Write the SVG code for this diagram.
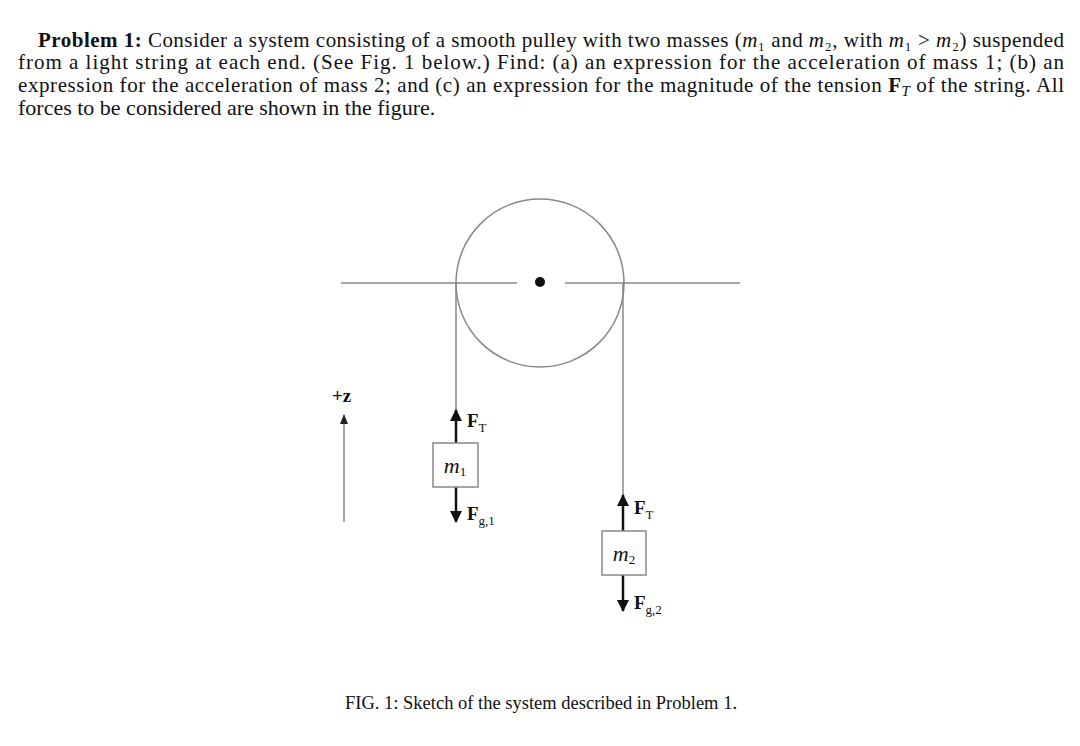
<svg xmlns="http://www.w3.org/2000/svg" width="1080" height="746" viewBox="0 0 1080 746">
<style>
.t{font-family:"Liberation Serif",serif;font-size:21px;fill:#111}
.l{stroke:#888;stroke-width:1.5;fill:none}
.a{stroke:#111;stroke-width:2.5;fill:none}
.bx{fill:#fff;stroke:#888;stroke-width:1.5}
.lb{font-family:"Liberation Serif",serif;fill:#111}
</style>
<defs><marker id="ah" markerWidth="12" markerHeight="12" refX="11" refY="6" orient="auto" markerUnits="userSpaceOnUse"><path d="M0,0 L12,6 L0,12 z" fill="#111"/></marker>
<marker id="ah2" markerWidth="10" markerHeight="8" refX="9" refY="4" orient="auto" markerUnits="userSpaceOnUse"><path d="M0,0 L10,4 L0,8 z" fill="#222"/></marker></defs>
<g id="text">
<text class="t" x="38" y="47" textLength="1026" lengthAdjust="spacing"><tspan font-weight="bold">Problem 1:</tspan> Consider a system consisting of a smooth pulley with two masses (<tspan font-style="italic">m</tspan>₁ and <tspan font-style="italic">m</tspan>₂, with <tspan font-style="italic">m</tspan>₁ &gt; <tspan font-style="italic">m</tspan>₂) suspended</text>
<text class="t" x="18" y="69" textLength="1046" lengthAdjust="spacing">from a light string at each end. (See Fig. 1 below.) Find: (a) an expression for the acceleration of mass 1; (b) an</text>
<text class="t" x="18" y="92" textLength="1046" lengthAdjust="spacing">expression for the acceleration of mass 2; and (c) an expression for the magnitude of the tension <tspan font-weight="bold">F</tspan><tspan font-style="italic" style="font-size:15px" dy="4">T</tspan><tspan dy="-4"> of the string. All</tspan></text>
<text class="t" x="18" y="115" style="font-size:22px">forces to be considered are shown in the figure.</text>
<text class="t" x="541" y="709" text-anchor="middle" style="font-size:18.5px">FIG. 1: Sketch of the system described in Problem 1.</text>
</g>
<g id="pulley">
<circle cx="540" cy="283" r="84" class="l"/>
<line x1="341" y1="283" x2="517" y2="283" class="l"/>
<line x1="565" y1="283" x2="740" y2="283" class="l"/>
<circle cx="540" cy="282" r="5" fill="#111"/>
</g>
<g id="connectors">
<line x1="456" y1="283" x2="456" y2="443" class="l"/>
<line x1="623" y1="283" x2="623" y2="531" class="l"/>
<line x1="456" y1="443" x2="456" y2="410" class="a" marker-end="url(#ah)"/>
<line x1="456" y1="487" x2="456" y2="522" class="a" marker-end="url(#ah)"/>
<line x1="623" y1="531" x2="623" y2="495" class="a" marker-end="url(#ah)"/>
<line x1="623" y1="575" x2="623" y2="611" class="a" marker-end="url(#ah)"/>
<line x1="344" y1="522" x2="344" y2="415" class="l" marker-end="url(#ah2)"/>
</g>
<g id="m1">
<rect x="433" y="443" width="45" height="44" class="bx"/>
<text class="lb" x="455" y="473" text-anchor="middle" font-size="22"><tspan font-style="italic">m</tspan><tspan font-size="13" dy="3">1</tspan></text>
</g>
<g id="m2">
<rect x="602" y="531" width="44" height="44" class="bx"/>
<text class="lb" x="624" y="561" text-anchor="middle" font-size="22"><tspan font-style="italic">m</tspan><tspan font-size="13" dy="3">2</tspan></text>
</g>
<g id="labels">
<text class="lb" x="467" y="427" font-size="19" font-weight="bold">F<tspan font-size="13" font-weight="normal" dy="5">T</tspan></text>
<text class="lb" x="467" y="520" font-size="19" font-weight="bold">F<tspan font-size="13" font-weight="normal" dy="5">g,1</tspan></text>
<text class="lb" x="634" y="514" font-size="19" font-weight="bold">F<tspan font-size="13" font-weight="normal" dy="5">T</tspan></text>
<text class="lb" x="634" y="609" font-size="19" font-weight="bold">F<tspan font-size="13" font-weight="normal" dy="5">g,2</tspan></text>
<text class="lb" x="332" y="402" font-size="19" font-weight="bold">+z</text>
</g>
</svg>
